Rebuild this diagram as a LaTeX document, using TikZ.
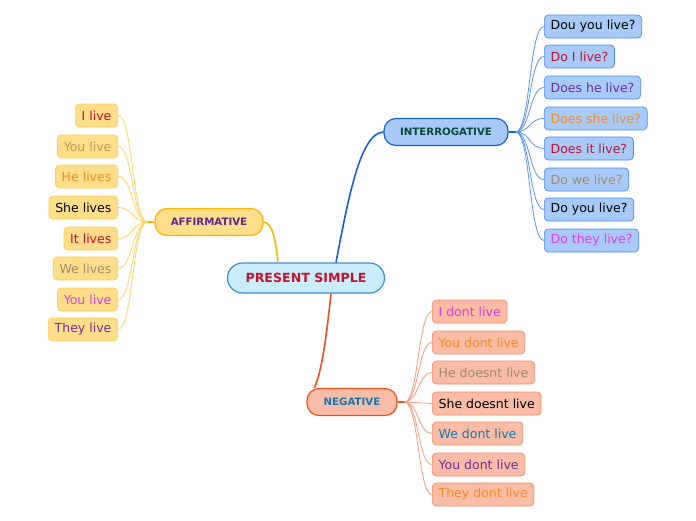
\documentclass[tikz,border=0pt]{standalone}
\usepackage{fontspec}
\setmainfont{DejaVu Sans}
\usetikzlibrary{calc,positioning}
\definecolor{rootfill}{HTML}{C9EDFC}
\definecolor{rootdraw}{HTML}{3B8ED0}
\definecolor{crimson}{HTML}{C8102E}
\definecolor{affill}{HTML}{FFDE8A}
\definecolor{afdraw}{HTML}{FFB400}
\definecolor{afleaf}{HTML}{FFCC55}
\definecolor{afline}{HTML}{FFD266}
\definecolor{infill}{HTML}{A8CAF8}
\definecolor{indraw}{HTML}{1660D0}
\definecolor{inleaf}{HTML}{4D8DEA}
\definecolor{inline}{HTML}{5B94E8}
\definecolor{nefill}{HTML}{F9BCA6}
\definecolor{nedraw}{HTML}{F0501E}
\definecolor{neleaf}{HTML}{F78A66}
\definecolor{neline}{HTML}{F79A7A}
\definecolor{tan}{HTML}{C8965A}
\definecolor{orng}{HTML}{F28C28}
\definecolor{greyish}{HTML}{A08C6A}
\definecolor{magnta}{HTML}{E03CE0}
\definecolor{purp}{HTML}{6E2E96}
\definecolor{deeppurp}{HTML}{5A2A90}
\definecolor{seablue}{HTML}{1478B4}
\definecolor{darkgrn}{HTML}{0B4A3C}
\tikzset{
    root/.style={
           draw=rootdraw, fill=rootfill, line width=1.2pt,
           rounded corners=15pt,
           minimum width=157pt, minimum height=30pt,
           font=\fontsize{12.6}{14}\selectfont\bfseries,
           text=crimson},
    branch/.style={
           line width=1.2pt,
           rounded corners=12pt,
           minimum height=27pt, inner xsep=12pt,
           font=\fontsize{10.2}{12}\selectfont\bfseries},
    leaf/.style={
           line width=0.7pt,
           rounded corners=4pt,
           minimum height=23pt, inner xsep=6.3pt,
           font=\fontsize{12.5}{14}\selectfont},
    afleafbox/.style={leaf, draw=afleaf, fill=affill, anchor=east},
    inleafbox/.style={leaf, draw=inleaf, fill=infill, anchor=west},
    neleafbox/.style={leaf, draw=neleaf, fill=nefill, anchor=west},
    mainline/.style={line width=1.6pt},
    twig/.style={line width=0.8pt}
}
\begin{document}
\begin{tikzpicture}[x=1pt, y=-1pt]
        \useasboundingbox (0,0) rectangle (696,520);

        % centre and branches
        \node[root] (root) at (306,278) {PRESENT SIMPLE};
        \node[branch, draw=afdraw, fill=affill, text=deeppurp, minimum width=108pt] (aff) at (209,222) {AFFIRMATIVE};
        \node[branch, draw=indraw, fill=infill, text=darkgrn, minimum width=124pt] (int) at (446,132) {INTERROGATIVE};
        \node[branch, draw=nedraw, fill=nefill, text=seablue, minimum width=90pt] (neg) at (352,402) {NEGATIVE};

        \coordinate (affhub) at ($(aff.west)+(-7,0)$);
        \coordinate (inthub) at ($(int.east)+(7,0)$);
        \coordinate (neghub) at ($(neg.east)+(7,0)$);

        % affirmative leaves
        \node[afleafbox, text=crimson] (a1) at (118,115.5) {I live};
        \node[afleafbox, text=tan] (a2) at (118,146.5) {You live};
        \node[afleafbox, text=orng] (a3) at (118,176.5) {He lives};
        \node[afleafbox, text=black] (a4) at (118,207.5) {She lives};
        \node[afleafbox, text=crimson] (a5) at (118,238.5) {It lives};
        \node[afleafbox, text=greyish] (a6) at (118,268.5) {We lives};
        \node[afleafbox, text=magnta] (a7) at (118,299.5) {You live};
        \node[afleafbox, text=purp] (a8) at (118,329.5) {They live};

        % interrogative leaves
        \node[inleafbox, text=black] (i1) at (544,26.5) {Dou you live?};
        \node[inleafbox, text=crimson] (i2) at (544,56.5) {Do I live?};
        \node[inleafbox, text=purp] (i3) at (544,87.5) {Does he live?};
        \node[inleafbox, text=orng] (i4) at (544,118.5) {Does she live?};
        \node[inleafbox, text=crimson] (i5) at (544,148.5) {Does it live?};
        \node[inleafbox, text=greyish] (i6) at (544,179.5) {Do we live?};
        \node[inleafbox, text=black] (i7) at (544,209.5) {Do you live?};
        \node[inleafbox, text=magnta] (i8) at (544,240.5) {Do they live?};

        % negative leaves
        \node[neleafbox, text=magnta] (n1) at (432,311.5) {I dont live};
        \node[neleafbox, text=orng] (n2) at (432,342.5) {You dont live};
        \node[neleafbox, text=greyish] (n3) at (432,372.5) {He doesnt live};
        \node[neleafbox, text=black] (n4) at (432,403.5) {She doesnt live};
        \node[neleafbox, text=seablue] (n5) at (432,433.5) {We dont live};
        \node[neleafbox, text=purp] (n6) at (432,464.5) {You dont live};
        \node[neleafbox, text=orng] (n7) at (432,494.5) {They dont live};

        % main connectors
        \draw[mainline, afdraw] (aff.east) .. controls (272,222) and (276,240) .. ($(root.north)+(-28,0)$);
        \draw[mainline, indraw] ($(root.north)+(30,0)$) .. controls (348,200) and (360,133) .. (int.west);
        \draw[mainline, nedraw] ($(root.south)+(25,0)$) .. controls (326,340) and (322,370) .. ($(neg.north west)+(8,0)$);

        % stubs and twigs
        \draw[twig, afdraw, line width=1.2pt] (aff.west) -- (affhub);
        \draw[twig, indraw, line width=1.2pt] (int.east) -- (inthub);
        \draw[twig, nedraw, line width=1.2pt] (neg.east) -- (neghub);
        \foreach \n in {a1,a2,a3,a4,a5,a6,a7,a8}
            \draw[twig, afline] (affhub) .. controls ($(affhub)+(-15,0)$) and ($(\n.east)+(15,0)$) .. (\n.east);
        \foreach \n in {i1,i2,i3,i4,i5,i6,i7,i8}
            \draw[twig, inline] (inthub) .. controls ($(inthub)+(15,0)$) and ($(\n.west)+(-15,0)$) .. (\n.west);
        \foreach \n in {n1,n2,n3,n4,n5,n6,n7}
            \draw[twig, neline] (neghub) .. controls ($(neghub)+(14,0)$) and ($(\n.west)+(-14,0)$) .. (\n.west);

    \end{tikzpicture}
\end{document}
